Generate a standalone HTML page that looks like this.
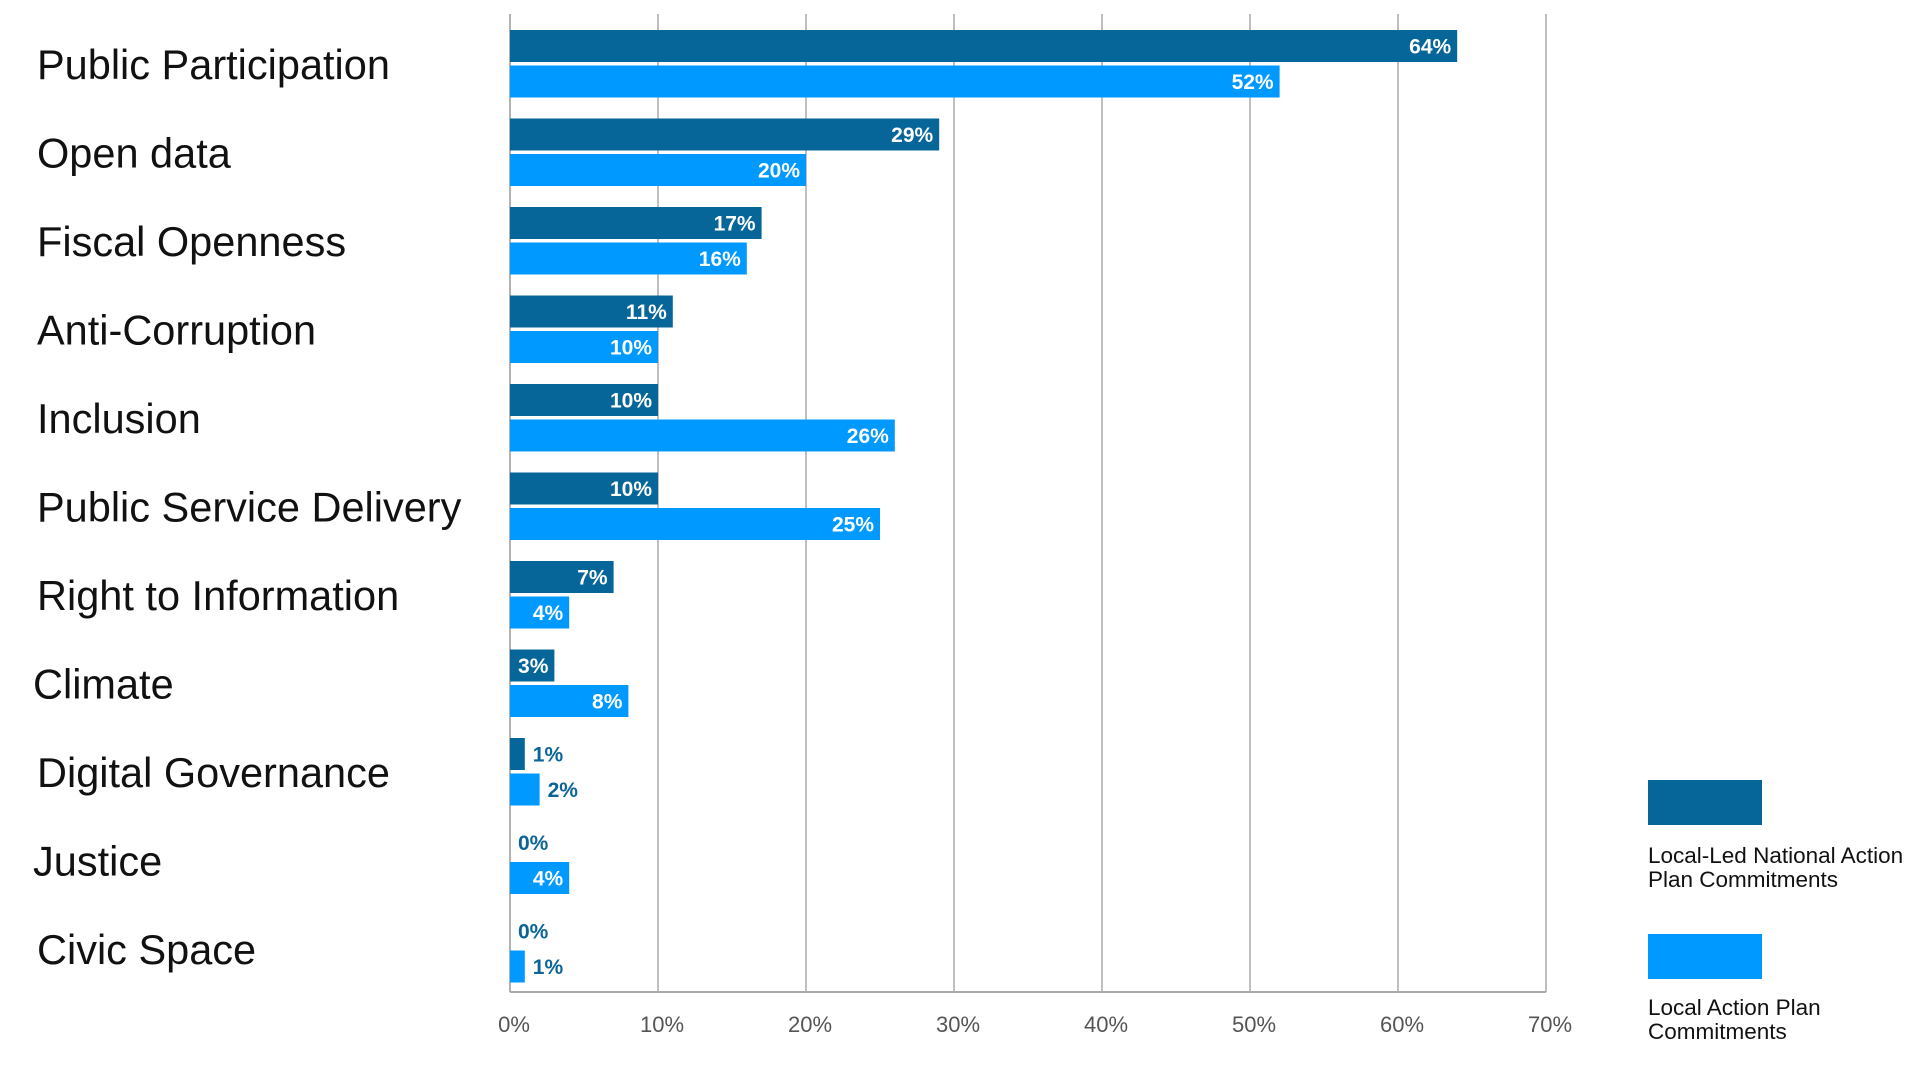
<!DOCTYPE html>
<html><head><meta charset="utf-8"><style>
html,body{margin:0;padding:0;background:#fff;}
svg{display:block;font-family:"Liberation Sans",sans-serif;}
</style></head><body>
<svg id="chart" width="1920" height="1080"></svg>
<script>
const categories=["Public Participation","Open data","Fiscal Openness","Anti-Corruption","Inclusion","Public Service Delivery","Right to Information","Climate","Digital Governance","Justice","Civic Space"];
const nationalValues=[64,29,17,11,10,10,7,3,1,0,0];
const localValues=[52,20,16,10,26,25,4,8,2,4,1];
const tickValues=[0,10,20,30,40,50,60,70];
const tickLabels=["0%","10%","20%","30%","40%","50%","60%","70%"];
const labelOffsets=[0,0,0,0,0,0,0,-4,0,-4,0];

const NS="http://www.w3.org/2000/svg";
const svg=document.getElementById('chart');
const x0=510, pxPer=14.80, top0=30, pitch=88.5, barH=32, gap=3.5;
const xs=v=>x0+v*pxPer;
function el(tag,attrs,parent){const e=document.createElementNS(NS,tag);for(const k in attrs)e.setAttribute(k,attrs[k]);(parent||svg).appendChild(e);return e;}

const grid=el('g',{});


tickValues.forEach((v,i)=>{
  const l=el('line',{x1:xs(v),x2:xs(v),y1:14,y2:992,stroke:i==0?'#999':'#aaa','stroke-width':1.5},grid);
  
  
  const t=el('text',{x:xs(v)+4,y:1032,'text-anchor':'middle','font-size':22,fill:'#555'});
  t.textContent=tickLabels[i];
  
  
});
const ax=el('line',{x1:x0,x2:xs(70),y1:992,y2:992,stroke:'#aaa','stroke-width':2});



function bar(v,y,color,name){
  const w=xs(v)-x0;
  if(v>0){
    const r=el('rect',{x:x0,y:y,width:w,height:barH,fill:color});
    
    
  }
  const t=el('text',{'font-size':21,'font-weight':'bold',y:y+barH/2+7.5});
  if(v>=3){t.setAttribute('x',xs(v)-6);t.setAttribute('text-anchor','end');t.setAttribute('fill','#fff');}
  else{t.setAttribute('x',xs(v)+8);t.setAttribute('fill','#0a6496');}
  t.textContent=v+'%';
  
  
}
categories.forEach((c,i)=>{
  const y=top0+i*pitch;
  bar(nationalValues[i],y,'#06669a','bar-national');
  bar(localValues[i],y+barH+gap,'#0099ff','bar-local');
  const t=el('text',{x:37+labelOffsets[i],y:y+barH+gap/2+15,'font-size':41.5,fill:'#111'});
  t.textContent=c;
  
  
});

const lg=el('g',{});


const r1=el('rect',{x:1648,y:780,width:114,height:45,fill:'#06669a'},lg);


const r2=el('rect',{x:1648,y:934,width:114,height:45,fill:'#0099ff'},lg);


[["Local-Led National Action",863],["Plan Commitments",887],["Local Action Plan",1015],["Commitments",1039]].forEach(a=>{
  const t=el('text',{x:1648,y:a[1],'font-size':22.5,fill:'#111'},lg);
  t.textContent=a[0];
  
  
});
</script>
</body></html>
